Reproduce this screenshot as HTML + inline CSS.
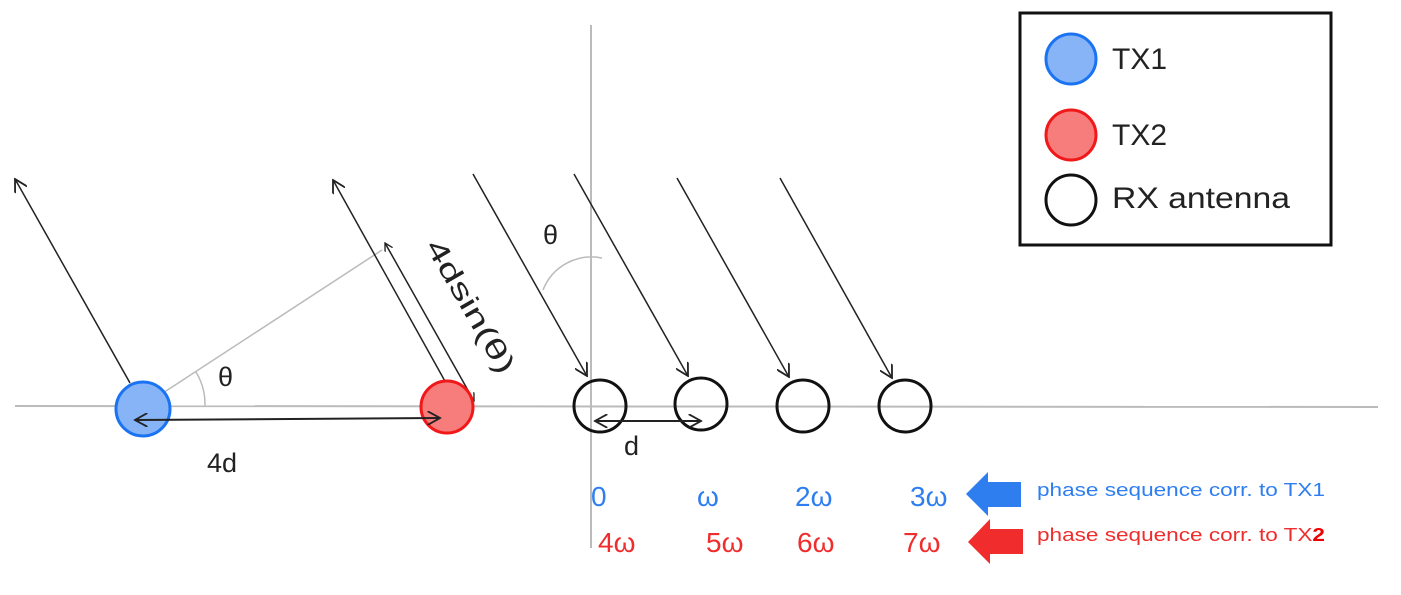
<!DOCTYPE html>
<html><head><meta charset="utf-8"><style>
html,body{margin:0;padding:0;background:#fff;}
svg{display:block;font-family:"Liberation Sans",sans-serif;}
</style></head><body>
<svg width="1401" height="595" viewBox="0 0 1401 595" xmlns="http://www.w3.org/2000/svg">
<defs>
<marker id="ah" viewBox="0 0 10 10" refX="9" refY="5" markerWidth="9" markerHeight="9" orient="auto-start-reverse" markerUnits="userSpaceOnUse"><path d="M0,0 L9,5 L0,10" fill="none" stroke="#222" stroke-width="1.5"/></marker>
<marker id="ah2" viewBox="0 0 10 10" refX="9" refY="5" markerWidth="14" markerHeight="14" orient="auto-start-reverse" markerUnits="userSpaceOnUse"><path d="M0,0 L9,5 L0,10" fill="none" stroke="#222" stroke-width="1.3"/></marker>
</defs>
<line x1="15" y1="406" x2="1378" y2="407" stroke="#bbb" stroke-width="2"/>
<line x1="591" y1="25" x2="591" y2="548" stroke="#bbb" stroke-width="2"/>
<line x1="143" y1="406" x2="382" y2="250" stroke="#bbb" stroke-width="1.5"/>
<path d="M196,372 A62,62 0 0 1 205,406" fill="none" stroke="#bbb" stroke-width="1.5"/>
<path d="M543,290 A52,52 0 0 1 602,258" fill="none" stroke="#bbb" stroke-width="1.5"/>
<line x1="130" y1="383" x2="15" y2="179" stroke="#222" stroke-width="1.5" marker-end="url(#ah2)"/>
<line x1="446" y1="383" x2="333" y2="180" stroke="#222" stroke-width="1.5" marker-end="url(#ah2)"/>
<line x1="474" y1="401" x2="385" y2="243" stroke="#222" stroke-width="1.5" marker-end="url(#ah)" marker-start="url(#ah)"/>
<line x1="473" y1="174" x2="587" y2="376" stroke="#222" stroke-width="1.5" marker-end="url(#ah2)"/>
<line x1="574" y1="174" x2="688" y2="376" stroke="#222" stroke-width="1.5" marker-end="url(#ah2)"/>
<line x1="677" y1="178" x2="789" y2="377" stroke="#222" stroke-width="1.5" marker-end="url(#ah2)"/>
<line x1="780" y1="178" x2="892" y2="378" stroke="#222" stroke-width="1.5" marker-end="url(#ah2)"/>
<circle cx="143" cy="409" r="27" fill="#86b4f7" stroke="#1a73f2" stroke-width="3"/>
<circle cx="447" cy="407" r="26" fill="#f77c7c" stroke="#f01818" stroke-width="3"/>
<circle cx="600" cy="406" r="26" fill="none" stroke="#111" stroke-width="3"/>
<circle cx="701" cy="404" r="26" fill="none" stroke="#111" stroke-width="3"/>
<circle cx="803" cy="406" r="26" fill="none" stroke="#111" stroke-width="3"/>
<circle cx="905" cy="406" r="26" fill="none" stroke="#111" stroke-width="3"/>
<line x1="135" y1="420" x2="440" y2="418" stroke="#222" stroke-width="2" marker-end="url(#ah2)" marker-start="url(#ah2)"/>
<line x1="595" y1="421" x2="701" y2="421" stroke="#222" stroke-width="2" marker-end="url(#ah2)" marker-start="url(#ah2)"/>
<text x="218" y="386" font-size="27" fill="#222">θ</text>
<text x="543" y="244" font-size="27" fill="#222">θ</text>
<text x="207" y="472" font-size="27" fill="#222">4d</text>
<text x="624" y="455" font-size="27" fill="#222">d</text>
<text x="0" y="0" font-size="28" fill="#222" textLength="150" lengthAdjust="spacingAndGlyphs" transform="translate(425,246) rotate(60)">4dsin(θ)</text>
<g font-size="28" fill="#2e7ef0">
<text x="591" y="506">0</text>
<text x="697" y="506">ω</text>
<text x="795" y="506">2ω</text>
<text x="910" y="506">3ω</text>
</g>
<g font-size="28" fill="#f02c2c">
<text x="598" y="552">4ω</text>
<text x="706" y="552">5ω</text>
<text x="797" y="552">6ω</text>
<text x="903" y="552">7ω</text>
</g>
<polygon points="966,494 988,472 988,482 1021,482 1021,507 988,507 988,516" fill="#2e7ef0"/>
<polygon points="968,542 990,519 990,529 1023,529 1023,554 990,554 990,564" fill="#f02c2c"/>
<text x="1037" y="496" font-size="18" fill="#2e7ef0" textLength="288" lengthAdjust="spacingAndGlyphs">phase sequence corr. to TX1</text>
<text x="1037" y="541" font-size="18" fill="#f02c2c" textLength="288" lengthAdjust="spacingAndGlyphs">phase sequence corr. to TX<tspan font-weight="bold" fill="#e00">2</tspan></text>
<rect x="1020" y="13" width="311" height="232" fill="#fff" stroke="#111" stroke-width="3"/>
<circle cx="1071" cy="59" r="25" fill="#86b4f7" stroke="#1a73f2" stroke-width="3"/>
<circle cx="1071" cy="135" r="25" fill="#f77c7c" stroke="#f01818" stroke-width="3"/>
<circle cx="1071" cy="200" r="25" fill="none" stroke="#111" stroke-width="3"/>
<g font-size="30" fill="#222">
<text x="1112" y="69">TX1</text>
<text x="1112" y="145">TX2</text>
<text x="1112" y="208" textLength="178" lengthAdjust="spacingAndGlyphs">RX antenna</text>
</g>
</svg>
</body></html>
